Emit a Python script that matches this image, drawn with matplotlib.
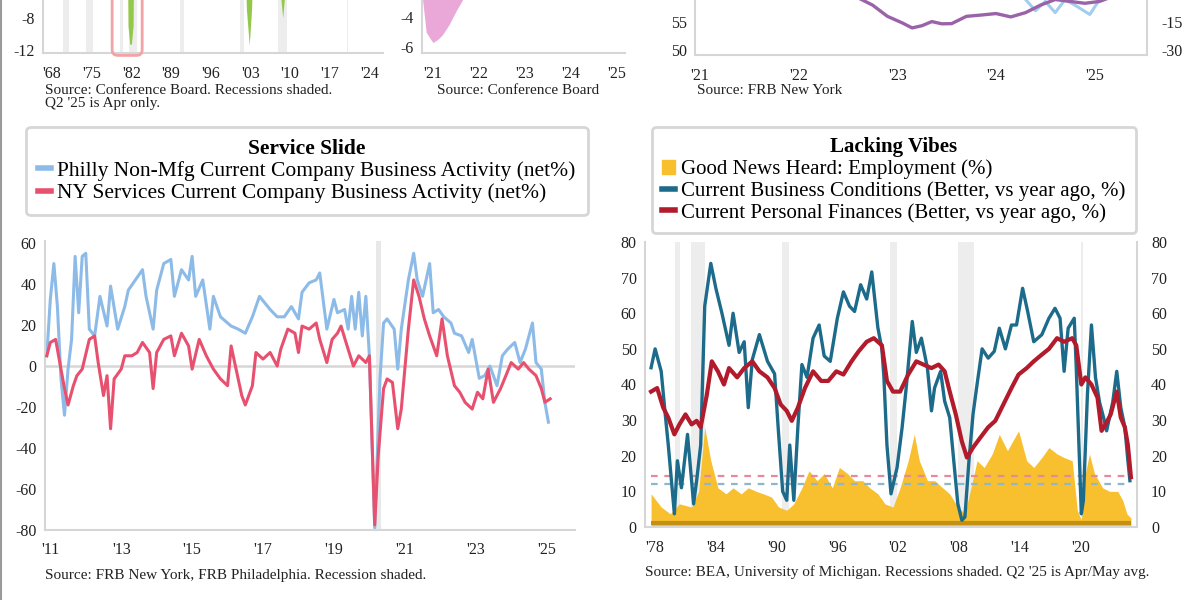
import numpy as np
import matplotlib
matplotlib.use('Agg')
import matplotlib.pyplot as plt
import matplotlib.patches as mpatches
from matplotlib.lines import Line2D

plt.rcParams['font.family'] = ['Liberation Serif', 'DejaVu Serif']
plt.rcParams['axes.unicode_minus'] = False

W, H = 1200, 600

# ---------------- data ----------------
recessions = [(1969.9, 1970.9), (1973.9, 1975.2), (1980.0, 1980.5), (1981.5, 1982.9),
              (1990.5, 1991.2), (2001.2, 2001.9), (2007.9, 2009.5), (2020.1, 2020.3)]

# top-left (Conference Board, only lower part visible)
cb_years = [1966.4, 1981.3, 1981.4, 1981.7, 1982.0, 1982.3, 1982.4, 2002.0, 2002.3, 2002.8,
            2003.2, 2003.5, 2007.8, 2008.3, 2008.7, 2009.2, 2009.6, 2026.0]
cb_vals = [0, 0, -9, -11.3, -11.3, -9, 0, 0, -7, -11.4, -7, 0, 0, -5, -8, -4, 0, 0]
cb_ticks = [1968, 1975, 1982, 1989, 1996, 2003, 2010, 2017, 2024]
cb_labels = ["'68", "'75", "'82", "'89", "'96", "'03", "'10", "'17", "'24"]

# top-middle (Conference Board)
cb2_years = [2020.76, 2020.85, 2020.95, 2021.0, 2021.1, 2021.2, 2021.35, 2021.5, 2021.65, 2021.8, 2021.95]
cb2_vals = [-2.5, -5.0, -5.5, -5.7, -5.5, -5.2, -4.5, -3.6, -2.8, -2.0, 0]

# top-right (FRB New York)
ny_p_years = [2022.4, 2022.6, 2022.75, 2022.9, 2023.05, 2023.15, 2023.25, 2023.35, 2023.45, 2023.55,
              2023.7, 2023.85, 2024.0, 2024.15, 2024.3, 2024.45, 2024.6, 2024.75, 2024.9, 2025.05, 2025.2]
ny_p_vals = [5, -2, -6, -12, -15.5, -18.2, -17, -14.8, -16, -15.9, -12, -11.3, -10.5, -12.3, -10,
             -6, -3, -4, -5, -4, -1]
ny_b_years = [2024.3, 2024.4, 2024.5, 2024.6, 2024.7, 2024.8, 2024.95, 2025.05, 2025.15]
ny_b_vals = [-3, -9, -4, -10, -3, -6, -11, -3, 1]

# Service Slide
ph_years = [2010.9, 2011.0, 2011.1, 2011.2, 2011.3, 2011.4, 2011.5, 2011.6, 2011.7, 2011.8, 2011.9,
            2012.0, 2012.1, 2012.25, 2012.4, 2012.6, 2012.7, 2012.9, 2013.1, 2013.2, 2013.4, 2013.6,
            2013.7, 2013.9, 2014.0, 2014.2, 2014.4, 2014.5, 2014.7, 2014.9, 2015.0, 2015.1, 2015.3,
            2015.5, 2015.6, 2015.8, 2016.1, 2016.3, 2016.5, 2016.7, 2016.9, 2017.2, 2017.4, 2017.6,
            2017.8, 2018.0, 2018.1, 2018.3, 2018.5, 2018.6, 2018.8, 2019.0, 2019.1, 2019.3, 2019.4,
            2019.5, 2019.6, 2019.7, 2019.8, 2019.9, 2020.0, 2020.15, 2020.3, 2020.4, 2020.5, 2020.7,
            2020.8, 2020.9, 2021.1, 2021.25, 2021.35, 2021.5, 2021.7, 2021.8, 2021.95, 2022.1, 2022.3,
            2022.4, 2022.6, 2022.8, 2022.9, 2023.1, 2023.25, 2023.4, 2023.6, 2023.75, 2023.9, 2024.1,
            2024.25, 2024.4, 2024.6, 2024.7, 2024.85, 2024.95, 2025.05]
ph_vals = [5, 32.5, 50, 29, -6, -24, -1.5, 13, 53.5, 26, 53.5,
           55, 18, 14.7, 34, 19.5, 39, 18, 29, 37, 42, 47,
           34, 18, 37, 50, 52, 34, 47, 42, 53.5, 34, 42,
           18, 34, 24, 19.5, 18, 16, 24, 34, 27.6, 24, 24,
           29, 23, 36, 40.6, 42, 45.4, 18, 32.5, 26, 27.6, 18,
           34, 18, 36, 14.7, 34, 5, -79, -6, 21, 23, 18,
           -1.5, 18, 42, 55, 42, 34, 50, 26, 27.6, 24, 21,
           16, 14.7, 6.6, 13, -6, -4.7, 0, -9.6, 5, 8.2, 11.5,
           1.7, 8.2, 21, 1.7, -1.5, -17.7, -27.4]
nys_years = [2010.9, 2011.0, 2011.15, 2011.3, 2011.4, 2011.5, 2011.65, 2011.75, 2011.9, 2012.1,
             2012.25, 2012.35, 2012.5, 2012.6, 2012.7, 2012.8, 2013.0, 2013.1, 2013.3, 2013.45,
             2013.6, 2013.8, 2013.9, 2014.0, 2014.2, 2014.4, 2014.5, 2014.7, 2014.9, 2015.0,
             2015.2, 2015.4, 2015.6, 2015.8, 2016.0, 2016.1, 2016.2, 2016.4, 2016.5, 2016.7,
             2016.8, 2017.0, 2017.2, 2017.4, 2017.5, 2017.7, 2017.9, 2018.0, 2018.1, 2018.3,
             2018.5, 2018.6, 2018.8, 2018.95, 2019.1, 2019.2, 2019.4, 2019.55, 2019.7, 2019.9,
             2020.0, 2020.15, 2020.25, 2020.4, 2020.5, 2020.65, 2020.8, 2020.9, 2021.1, 2021.25,
             2021.4, 2021.55, 2021.7, 2021.9, 2022.05, 2022.2, 2022.4, 2022.55, 2022.7, 2022.9,
             2023.05, 2023.2, 2023.35, 2023.5, 2023.7, 2023.85, 2024.0, 2024.2, 2024.35, 2024.5,
             2024.7, 2024.85, 2024.95, 2025.1]
nys_vals = [5, 11.5, 13, -1.5, -11, -19, -9.6, -4.7, -1.5, 13,
            14.7, 1.7, -14.4, -4.7, -30.6, -6.3, -1.5, 5, 5, 6.6,
            11.5, 6.6, -11, 6.6, 13, 14.7, 5, 16, 9.8, -1.5,
            13, 5, -1.5, -6.3, -9.6, 9.8, 1.7, -14.4, -19, -9.6,
            6.6, 3.4, 6.6, 0, 8.2, 18, 16, 6.6, 19.5, 18,
            21, 13, 1.7, 13, 16, 19.5, 8.2, 0, 5, 1.7,
            5, -77.5, -43.6, -11, -6.3, -8, -30.6, -21, 18, 42,
            34, 23, 14.7, 5, 23, 5, -9.6, -12.8, -17.7, -21,
            -12.8, -16, -1.5, -17.7, -11, -4.7, 1.7, -1.5, 1.7, -1.5,
            -4.7, -11, -17.7, -16]
ss_ticks = [2011, 2013, 2015, 2017, 2019, 2021, 2023, 2025]
ss_labels = ["'11", "'13", "'15", "'17", "'19", "'21", "'23", "'25"]

# Lacking Vibes
bc_years = [1977.6, 1978.0, 1978.6, 1979.0, 1979.3, 1979.9, 1980.2, 1980.6, 1981.2, 1981.8,
            1982.1, 1982.5, 1982.9, 1983.5, 1984.0, 1984.6, 1985.3, 1985.7, 1986.3, 1986.8,
            1987.2, 1987.6, 1988.3, 1989.1, 1989.8, 1990.2, 1990.6, 1991.0, 1991.3, 1991.7,
            1992.1, 1992.5, 1993.0, 1993.6, 1994.2, 1994.7, 1995.3, 1996.0, 1996.6, 1997.2,
            1997.7, 1998.3, 1998.9, 1999.4, 2000.0, 2000.4, 2000.6, 2000.9, 2001.3, 2001.9,
            2002.4, 2002.8, 2003.4, 2003.8, 2004.3, 2004.9, 2005.3, 2005.6, 2006.2, 2006.6,
            2007.1, 2007.5, 2007.9, 2008.3, 2008.6, 2009.0, 2009.4, 2009.8, 2010.3, 2010.9,
            2011.5, 2012.0, 2012.6, 2013.2, 2013.7, 2014.3, 2014.8, 2015.4, 2016.2, 2016.9,
            2017.5, 2018.0, 2018.4, 2018.8, 2019.4, 2019.6, 2020.1, 2020.3, 2020.7, 2021.1,
            2021.5, 2021.9, 2022.3, 2022.6, 2023.2, 2023.6, 2024.0, 2024.4, 2024.7, 2024.9]
bc_vals = [44.7, 50, 43.7, 31.6, 23, 3.7, 18.6, 11, 26, 6.5,
           13, 23, 62, 74, 67, 60, 51, 60, 49, 52,
           33.5, 47, 54, 46.5, 43, 26, 10, 7.5, 23, 7.5,
           28, 45.6, 42, 53, 56.7, 48, 46.5, 58.6, 66, 62,
           60.5, 68, 64, 71.6, 56, 50, 42, 23, 9.3, 16.7,
           28, 39, 57.7, 49, 53, 44.6, 32.6, 39, 43.7, 35.3,
           30.7, 18.6, 6.5, 1.9, 2.8, 18.6, 31.6, 40, 50, 47.4,
           49.3, 55.8, 50, 56.7, 56.7, 67, 60.5, 52, 54, 58.6,
           61.4, 58.6, 43.7, 55.8, 58.6, 44.7, 3.7, 7.4, 37, 56.7,
           42, 35, 30.7, 27, 35, 43.7, 33.5, 28, 18.6, 13]
pf_years = [1977.6, 1978.2, 1978.8, 1979.3, 1979.9, 1980.4, 1981.0, 1981.6, 1982.1, 1982.5,
            1983.1, 1983.6, 1984.2, 1984.8, 1985.3, 1986.1, 1986.8, 1987.6, 1988.3, 1989.1,
            1989.8, 1990.4, 1991.0, 1991.5, 1992.1, 1992.8, 1993.6, 1994.4, 1995.1, 1995.9,
            1996.6, 1997.4, 1998.1, 1998.9, 1999.6, 2000.4, 2000.9, 2001.5, 2002.2, 2003.0,
            2003.8, 2004.5, 2005.3, 2006.0, 2006.6, 2007.1, 2007.7, 2008.3, 2008.8, 2009.4,
            2010.1, 2010.9, 2011.6, 2012.4, 2013.2, 2013.9, 2014.7, 2015.4, 2016.2, 2016.9,
            2017.7, 2018.4, 2019.2, 2019.6, 2020.1, 2020.5, 2021.1, 2021.7, 2022.1, 2022.5,
            2023.0, 2023.6, 2024.0, 2024.4, 2024.7, 2025.0]
pf_vals = [38, 39, 33.5, 30.7, 26, 28.8, 31.6, 28.8, 29.8, 28,
           37, 46.5, 43.7, 40, 44.6, 42, 44.6, 46.5, 43.7, 42,
           39, 34.4, 32.6, 29.8, 33.5, 39, 43.7, 41, 41, 43.7,
           42.8, 46.5, 49.3, 52, 53, 51, 41, 38, 38, 42.8,
           46.5, 45.6, 44.6, 45.6, 43.7, 38, 31.6, 24, 19.5, 22.3,
           25, 28, 29.8, 34.4, 39, 42.8, 44.6, 46.5, 48.4, 50,
           53, 52, 53, 51, 40, 42, 40, 36.3, 27, 28.8,
           31.6, 38, 30.7, 28, 23, 14]
gn_years = [1977.6, 1978.6, 1979.5, 1980.4, 1981.6, 1982.3, 1982.9, 1983.5, 1984.2, 1985.0,
            1985.7, 1986.5, 1987.2, 1988.0, 1988.7, 1989.5, 1990.2, 1991.0, 1991.7, 1992.5,
            1993.2, 1994.0, 1994.7, 1995.5, 1996.2, 1997.0, 1997.7, 1998.5, 1999.2, 2000.0,
            2000.7, 2001.5, 2002.2, 2003.0, 2003.6, 2004.1, 2004.9, 2005.6, 2006.4, 2007.1,
            2007.9, 2008.6, 2009.2, 2009.8, 2010.5, 2011.3, 2012.0, 2012.8, 2013.3, 2013.9,
            2014.7, 2015.4, 2016.2, 2016.9, 2017.7, 2018.4, 2019.2, 2019.7, 2020.1, 2020.5,
            2020.9, 2021.4, 2022.2, 2022.9, 2023.7, 2024.2, 2024.6, 2025.0]
gn_vals = [9.3, 5.6, 3.7, 6.5, 5.6, 10, 28, 18.6, 11, 9.3,
           11, 9.3, 11, 10, 9.3, 8.4, 5.6, 4.7, 6.5, 11,
           15.8, 13, 15, 11, 16.7, 15, 13, 13, 11, 9.3,
           6.5, 5.6, 11, 18.6, 26, 18.6, 13, 13, 11, 9.3,
           5.6, 3.7, 11, 18.6, 16.7, 20.5, 26, 21.4, 24, 27,
           18.6, 16.7, 19.5, 22.3, 20.5, 19.5, 18.6, 4.7, 1.9, 15,
           20.5, 15, 11, 10, 10, 7.4, 3.7, 2.5]
pf_ref_level = 14.4
bc_ref_level = 12.0
gn_base_level = 1.2
lv_ticks = [1978, 1984, 1990, 1996, 2002, 2008, 2014, 2020]
lv_labels = ["'78", "'84", "'90", "'96", "'02", "'08", "'14", "'20"]

# ---------------- colours ----------------
GRID = '#d6d6d6'
SHADE = '#ededed'
TXT = '#222222'
PH_BLUE = '#8dbbe8'
NY_RED = '#e8506f'
TEAL = '#1d6b8a'
DRED = '#b11b2c'
GOLD = '#f8bf2e'


def box(x0, y0, x1, y1):
    return [x0 / W, 1 - y1 / H, (x1 - x0) / W, (y1 - y0) / H]


def style(ax, right=False):
    for s in ax.spines.values():
        s.set_color(GRID)
        s.set_linewidth(1.5)
    ax.spines['top'].set_visible(False)
    ax.spines['right'].set_visible(right)
    ax.tick_params(length=0, labelsize=11.5, labelcolor=TXT)
    ax.tick_params(axis='x', pad=9)
    ax.tick_params(axis='y', pad=6)
    ax.set_facecolor('none')


def shade(ax, lo, hi):
    for a, b in recessions:
        if b > lo and a < hi:
            ax.axvspan(a, b, color=SHADE, lw=0, zorder=0)


fig = plt.figure(figsize=(12, 6), dpi=100)
fig.add_artist(Line2D([0.001, 0.001], [0, 1], color='#9a9a9a', lw=1.5, transform=fig.transFigure))

# ---- top-left ----
ax1 = fig.add_axes(box(43, -37, 383, 53))
style(ax1)
ax1.set_xlim(1966.4, 2026.4)
ax1.set_ylim(-12.4, -1.15)
shade(ax1, 1966.4, 2026.4)
ax1.fill_between(cb_years, 0, cb_vals, color='#93c84b', lw=0, zorder=2)
hl = mpatches.FancyBboxPatch((1978.6, -12.7), 5.3, 13, boxstyle='round,pad=0,rounding_size=1',
                             mutation_aspect=0.71, fc='none', ec='#f2a3a6', lw=2, zorder=3, clip_on=False)
ax1.add_patch(hl)
ax1.set_xticks(cb_ticks, cb_labels)
ax1.set_yticks([-12, -8], ['-12', '-8'])
fig.text(45 / W, 1 - 90 / H, 'Source: Conference Board. Recessions shaded.', fontsize=11, color=TXT, va='center')
fig.text(45 / W, 1 - 104 / H, "Q2 '25 is Apr only.", fontsize=11, color=TXT, va='center')

# ---- top-middle ----
ax2 = fig.add_axes(box(422, -37, 625, 53))
style(ax2)
ax2.set_xlim(2020.76, 2025.17)
ax2.set_ylim(-6.4, -0.4)
ax2.fill_between(cb2_years, 0, cb2_vals, color='#e9a8d8', lw=0)
ax2.set_xticks([2021, 2022, 2023, 2024, 2025], ["'21", "'22", "'23", "'24", "'25"])
ax2.set_yticks([-6, -4], ['-6', '-4'])
fig.text(437 / W, 1 - 90 / H, 'Source: Conference Board', fontsize=11, color=TXT, va='center')

# ---- top-right ----
ax3 = fig.add_axes(box(695, -35, 1147, 55))
style(ax3, right=True)
ax3.set_xlim(2020.95, 2025.53)
ax3.set_ylim(-32.7, 15.5)
ax3.plot(ny_b_years, ny_b_vals, color='#a3cdef', lw=2.2)
ax3.plot(ny_p_years, ny_p_vals, color='#9a63a9', lw=2.4)
ax3.set_xticks([2021, 2022, 2023, 2024, 2025], ["'21", "'22", "'23", "'24", "'25"])
ax3l = ax3.twinx()
ax3.yaxis.tick_right()
ax3.set_yticks([-30, -15], ['-30', '-15'])
ax3.tick_params(axis='y', length=0, pad=10)
ax3l.set_ylim(49.1, 65.2)
ax3l.yaxis.tick_left()
ax3l.set_yticks([50, 55], ['50', '55'])
for s in ax3l.spines.values():
    s.set_visible(False)
ax3l.tick_params(length=0, labelsize=11.5, labelcolor=TXT, pad=6)
fig.text(697 / W, 1 - 90 / H, 'Source: FRB New York', fontsize=11, color=TXT, va='center')

# ---- Service Slide ----
ax4 = fig.add_axes(box(45, 241, 575, 530))
style(ax4)
ax4.set_xlim(2010.85, 2025.8)
ax4.set_ylim(-80, 61)
ax4.axvspan(2020.18, 2020.32, color='#e8e8e8', lw=0, zorder=0)
ax4.axhline(0, color=GRID, lw=1.8, zorder=1)
ax4.plot(ph_years, ph_vals, color=PH_BLUE, lw=2.2, zorder=2)
ax4.plot(nys_years, nys_vals, color=NY_RED, lw=2.2, zorder=3)
ax4.set_xticks(ss_ticks, ss_labels)
ax4.set_yticks(range(-80, 61, 20))
fig.text(45 / W, 1 - 575 / H, 'Source: FRB New York, FRB Philadelphia. Recession shaded.',
         fontsize=11, color=TXT, va='center')
leg1 = fig.legend([Line2D([0], [0], color=PH_BLUE, lw=4), Line2D([0], [0], color=NY_RED, lw=4)],
                  ['Philly Non-Mfg Current Company Business Activity (net%)',
                   'NY Services Current Company Business Activity (net%)'],
                  title='Service Slide', loc='center', bbox_to_anchor=(307 / W, 1 - 171 / H),
                  fontsize=15.5, title_fontproperties={'weight': 'bold', 'size': 15.5},
                  frameon=True, fancybox=True, edgecolor='#cccccc', handlelength=0.6,
                  handletextpad=0.3, labelspacing=0.1, borderpad=0.55)
leg1.get_frame().set_linewidth(2)

# ---- Lacking Vibes ----
ax5 = fig.add_axes(box(645, 242, 1137, 527))
style(ax5, right=True)
ax5.set_xlim(1977.0, 2025.6)
ax5.set_ylim(0, 80)
shade(ax5, 1977.0, 2025.6)
ax5.fill_between(gn_years, 0, gn_vals, color=GOLD, lw=0, zorder=1)
ax5.hlines(gn_base_level, gn_years[0], gn_years[-1], color='#c39012', lw=3, zorder=2)
ax5.hlines(pf_ref_level, bc_years[0], bc_years[-1], color='#e58a9c', lw=1.6, ls=(0, (3, 3)), zorder=2)
ax5.hlines(bc_ref_level, bc_years[0], bc_years[-1], color='#8fb6cf', lw=1.6, ls=(0, (3, 3)), zorder=2)
ax5.plot(bc_years, bc_vals, color=TEAL, lw=2.4, zorder=3)
ax5.plot(pf_years, pf_vals, color=DRED, lw=3, zorder=4)
ax5.set_xticks(lv_ticks, lv_labels)
ax5.set_yticks(range(0, 81, 10))
ax5r = ax5.twinx()
ax5r.set_ylim(0, 80)
ax5r.set_yticks(range(0, 81, 10))
for s in ax5r.spines.values():
    s.set_visible(False)
ax5r.tick_params(length=0, labelsize=11.5, labelcolor=TXT, pad=10)
fig.text(645 / W, 1 - 572 / H,
         "Source: BEA, University of Michigan. Recessions shaded. Q2 '25 is Apr/May avg.",
         fontsize=11, color=TXT, va='center')
leg2 = fig.legend([mpatches.Patch(color=GOLD), Line2D([0], [0], color=TEAL, lw=4),
                   Line2D([0], [0], color=DRED, lw=4)],
                  ['Good News Heard: Employment (%)',
                   'Current Business Conditions (Better, vs year ago, %)',
                   'Current Personal Finances (Better, vs year ago, %)'],
                  title='Lacking Vibes', loc='center', bbox_to_anchor=(894 / W, 1 - 180 / H),
                  fontsize=15, title_fontproperties={'weight': 'bold', 'size': 15},
                  frameon=True, fancybox=True, edgecolor='#cccccc', handlelength=0.6,
                  handletextpad=0.3, labelspacing=0.1, borderpad=0.5)
leg2.get_frame().set_linewidth(2)

fig.savefig('out.png', dpi=100)
